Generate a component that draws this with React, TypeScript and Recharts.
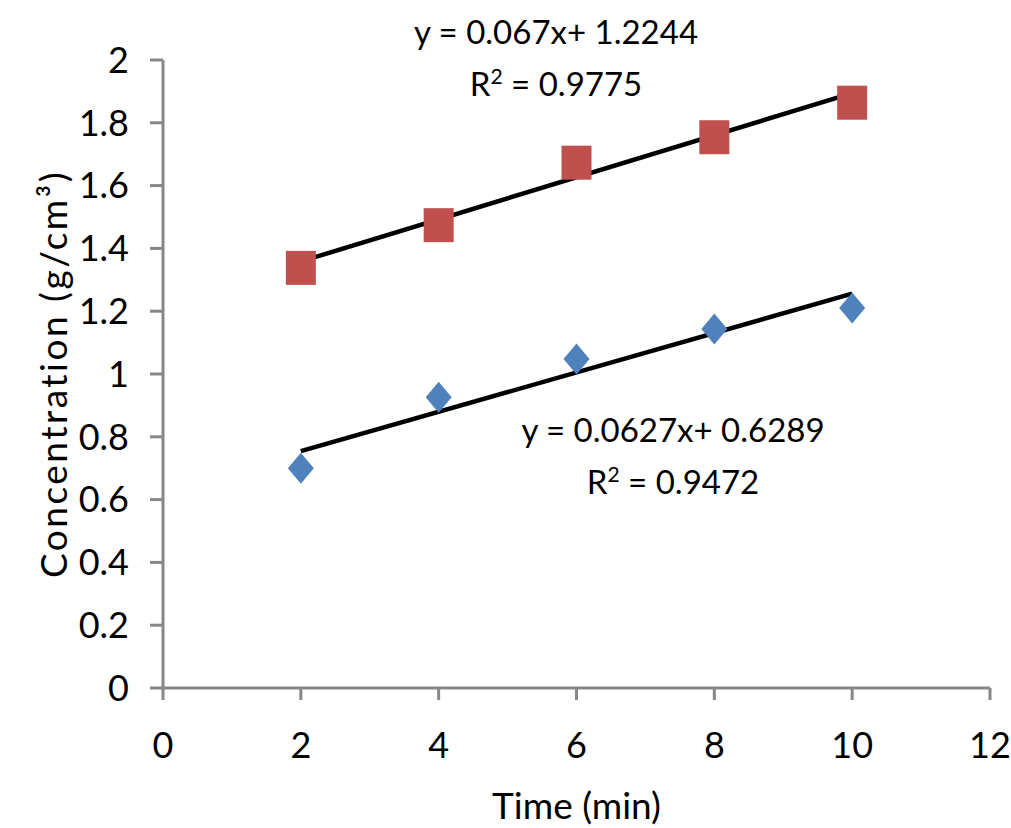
import React from 'react';
import { ScatterChart, Scatter, XAxis, YAxis, Label } from 'recharts';

// measured samples (time in min, concentration in g/cm3)
const times = [2, 4, 6, 8, 10];
const upperSeries = [1.338, 1.474, 1.673, 1.754, 1.864];
const lowerSeries = [0.7, 0.926, 1.048, 1.143, 1.21];

// linear fit end points at t = 2 and t = 10
const trendTimes = [2, 10];
const upperTrend = [1.3584, 1.8944];
const lowerTrend = [0.7543, 1.2559];

const xTicks = [0, 2, 4, 6, 8, 10, 12];
const yTicks = [0, 0.2, 0.4, 0.6, 0.8, 1, 1.2, 1.4, 1.6, 1.8, 2];

const upperFit = { eq: 'y = 0.067x+ 1.2244', r2: ' = 0.9775' };
const lowerFit = { eq: 'y = 0.0627x+ 0.6289', r2: ' = 0.9472' };

const toPoints = (xs: number[], ys: number[]) => xs.map((x, i) => ({ x, y: ys[i] }));

const upperData = toPoints(times, upperSeries);
const lowerData = toPoints(times, lowerSeries);
const upperTrendData = toPoints(trendTimes, upperTrend);
const lowerTrendData = toPoints(trendTimes, lowerTrend);

const FONT = 'Lato, "Liberation Sans", sans-serif';
const AXIS = '#878787';

const SquareMark = (props: any) => {
  const { cx, cy } = props;
  const w = 30;
  const h = 34;
  return <rect x={cx - w / 2} y={cy - h / 2} width={w} height={h} fill="#C0504D" />;
};

const DiamondMark = (props: any) => {
  const { cx, cy } = props;
  const w = 13;
  const h = 15.5;
  return (
    <path
      d={`M${cx},${cy - h} L${cx + w},${cy} L${cx},${cy + h} L${cx - w},${cy} Z`}
      fill="#4F81BD"
    />
  );
};

const NoMark = () => null;

const FitLabel = ({ x, y, fit }: { x: number; y: number; fit: { eq: string; r2: string } }) => (
  <g fontFamily={FONT} fontSize={33} fill="#000">
    <text x={x} y={y} textAnchor="middle">{fit.eq}</text>
    <text x={x} y={y + 52} textAnchor="middle">
      R<tspan fontSize={21} dy={-12}>2</tspan>
      <tspan dy={12}>{fit.r2}</tspan>
    </text>
  </g>
);

const fmt = (v: number) => String(Number(v.toFixed(1)));

export default function App() {
  return (
    <div style={{ position: 'absolute', left: 0, top: 0, background: '#fff' }}>
      <ScatterChart
        width={1011}
        height={828}
        margin={{ top: 60, right: 21, bottom: 0, left: 0 }}
        style={{ fontFamily: FONT }}
      >
        <XAxis
          type="number"
          dataKey="x"
          domain={[0, 12]}
          ticks={xTicks}
          allowDataOverflow
          height={140}
          stroke={AXIS}
          strokeWidth={3}
          tickSize={12}
          tickMargin={32}
          tick={{ fontSize: 36, fill: '#000', fontFamily: FONT }}
        >
          <Label
            value="Time (min)"
            position="insideBottom"
            offset={9}
            style={{ fontSize: 37, fill: '#000', fontFamily: FONT }}
          />
        </XAxis>
        <YAxis
          type="number"
          dataKey="y"
          domain={[0, 2]}
          ticks={yTicks}
          allowDataOverflow
          width={163}
          stroke={AXIS}
          strokeWidth={3}
          tickSize={13}
          tickMargin={21}
          tickFormatter={fmt}
          tick={{ fontSize: 36, fill: '#000', fontFamily: FONT }}
        >
          <Label
            value="Concentration (g/cm³)"
            angle={-90}
            position="insideLeft"
            offset={54}
            style={{ fontSize: 37, fill: '#000', fontFamily: FONT, textAnchor: 'middle', letterSpacing: 2.5 }}
          />
        </YAxis>
        <Scatter
          data={upperTrendData}
          line={{ stroke: '#000', strokeWidth: 4.5 }}
          shape={NoMark}
          isAnimationActive={false}
        />
        <Scatter
          data={lowerTrendData}
          line={{ stroke: '#000', strokeWidth: 4.5 }}
          shape={NoMark}
          isAnimationActive={false}
        />
        <Scatter data={upperData} shape={SquareMark} isAnimationActive={false} />
        <Scatter data={lowerData} shape={DiamondMark} isAnimationActive={false} />
        <FitLabel x={556} y={44} fit={upperFit} />
        <FitLabel x={673} y={442} fit={lowerFit} />
      </ScatterChart>
    </div>
  );
}
